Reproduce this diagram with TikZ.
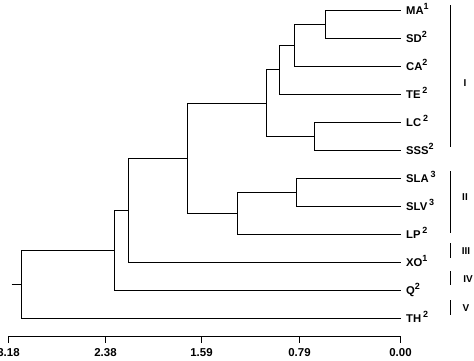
\documentclass[tikz,border=0pt]{standalone}
\usepackage{fontspec}
\setmainfont{Liberation Sans}
\newcommand{\grp}[1]{\raisebox{0.45em}{\fontsize{9}{9}\selectfont #1}}
\tikzset{
  taxon/.style={anchor=west,inner xsep=5.5bp,inner ysep=0pt,text height=7.8pt,text depth=0pt,font=\bfseries\fontsize{11.3}{12}\selectfont},
  branch/.style={line width=1.7bp,line join=miter},
  clade/.style={font=\bfseries\fontsize{10}{11}\selectfont,inner sep=0pt},
  scalelab/.style={font=\bfseries\fontsize{11.5}{12}\selectfont,inner sep=0pt}
}
\begin{document}
\begin{tikzpicture}[x=1bp,y=-1bp]
\useasboundingbox (0,0) rectangle (474,360);

%taxa
\node[taxon] (MA) at (400.5,10.5) {MA\grp{1}};
\node[taxon] (SD) at (400.5,38.5) {SD\grp{2}};
\node[taxon] (CA) at (400.5,66.5) {CA\grp{2}};
\node[taxon] (TE) at (400.5,94.5) {TE\,\grp{2}};
\node[taxon] (LC) at (400.5,122.5) {LC\,\grp{2}};
\node[taxon] (SSS) at (400.5,150.5) {SSS\grp{2}};
\node[taxon] (SLA) at (400.5,178.5) {SLA\,\grp{3}};
\node[taxon] (SLV) at (400.5,206.5) {SLV\,\grp{3}};
\node[taxon] (LP) at (400.5,234.5) {LP\,\grp{2}};
\node[taxon] (XO) at (400.5,262.5) {XO\grp{1}};
\node[taxon] (Q) at (400.5,290.5) {Q\grp{2}};
\node[taxon] (TH) at (400.5,318.5) {TH\,\grp{2}};

%joins
\coordinate (j1) at (325.5,24.5);
\coordinate (j2) at (294.5,45.5);
\coordinate (j3) at (279.5,69.5);
\coordinate (j4) at (314.5,136.5);
\coordinate (j5) at (266.5,103.5);
\coordinate (j6) at (296.5,192.5);
\coordinate (j7) at (237.5,213.5);
\coordinate (j8) at (187.5,158.5);
\coordinate (j9) at (128.5,210.5);
\coordinate (j10) at (114.5,250.5);
\coordinate (j11) at (21.5,284.5);
\coordinate (root) at (11.5,284.5);

%branches
\draw[branch] (MA.west) -| (j1) |- (SD.west);
\draw[branch] (j1) -| (j2) |- (CA.west);
\draw[branch] (j2) -| (j3) |- (TE.west);
\draw[branch] (LC.west) -| (j4) |- (SSS.west);
\draw[branch] (j3) -| (j5) |- (j4);
\draw[branch] (SLA.west) -| (j6) |- (SLV.west);
\draw[branch] (j6) -| (j7) |- (LP.west);
\draw[branch] (j5) -| (j8) |- (j7);
\draw[branch] (j8) -| (j9) |- (XO.west);
\draw[branch] (j9) -| (j10) |- (Q.west);
\draw[branch] (j10) -| (j11) |- (TH.west);
\draw[branch] (root) -- (j11);

%clusters
\draw[branch] (450.5,5) -- (450.5,147);
\node[clade] (cI) at (465,83) {I};
\draw[branch] (450.5,171) -- (450.5,233);
\node[clade] (cII) at (465,196.7) {II};
\draw[branch] (450.5,243) -- (450.5,258);
\node[clade] (cIII) at (466,250.7) {III};
\draw[branch] (450.5,271) -- (450.5,285);
\node[clade] (cIV) at (468,279.3) {IV};
\draw[branch] (450.5,300) -- (450.5,315);
\node[clade] (cV) at (466,308.3) {V};

%scale
\draw[branch] (8.5,343) -- (8.5,336.5) -- (400.5,336.5) -- (400.5,343);
\draw[branch] (105.5,336.5) -- (105.5,343);
\draw[branch] (201.5,336.5) -- (201.5,343);
\draw[branch] (299.5,336.5) -- (299.5,343);
\node[scalelab] (s0) at (8.5,353) {3.18};
\node[scalelab] (s1) at (105.5,353) {2.38};
\node[scalelab] (s2) at (201.5,353) {1.59};
\node[scalelab] (s3) at (299.5,353) {0.79};
\node[scalelab] (s4) at (400.5,353) {0.00};
\end{tikzpicture}
\end{document}
